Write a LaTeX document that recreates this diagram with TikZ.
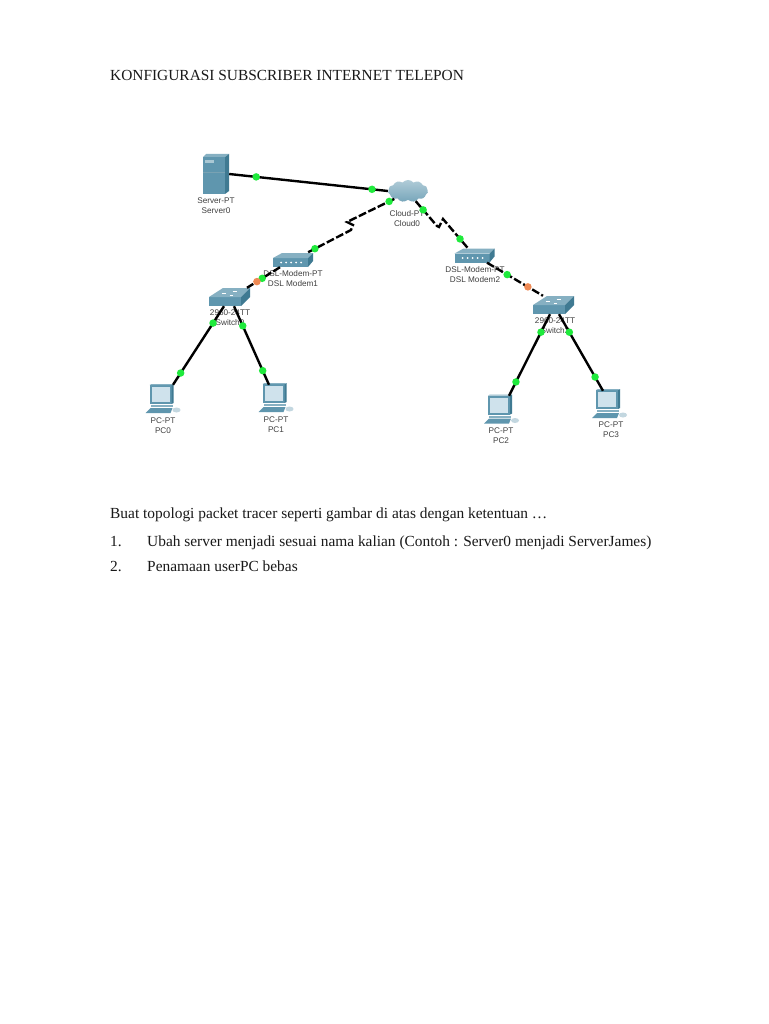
\documentclass[tikz,border=0pt]{standalone}
\usepackage{fontspec}
\setmainfont{Liberation Serif}
\setsansfont{Liberation Sans}
\usetikzlibrary{shapes.symbols}
\definecolor{devfront}{HTML}{5F96AE}
\definecolor{devtop}{HTML}{86B0C2}
\definecolor{devside}{HTML}{3F7A92}
\definecolor{devscreen}{HTML}{CFE2EC}
\definecolor{ledgreen}{HTML}{1FEA3C}
\definecolor{ledorange}{HTML}{EE8A55}
\tikzset{
  device/.style={inner sep=0pt},
  devlabel/.style={font=\sffamily\fontsize{8.2}{10}\selectfont, text=black!75, align=center, inner sep=0pt},
  bodytext/.style={font=\fontsize{15.4}{18}\selectfont, text=black!90, anchor=base west, inner sep=0pt},
  link/.style={black, line width=2.4pt},
  dashlink/.style={black, line width=2.4pt, dash pattern=on 8pt off 2.5pt},
  greenled/.style={circle, fill=ledgreen, inner sep=0pt, minimum size=7.5pt},
  orangeled/.style={circle, fill=ledorange, inner sep=0pt, minimum size=7.5pt},
  servericon/.pic={
    \fill[devfront] (-13,-17) rectangle (9,20);
    \fill[devtop] (-13,-17) -- (-10,-20) -- (13,-20) -- (9,-17) -- cycle;
    \fill[devside] (9,-17) -- (13,-20) -- (13,17) -- (9,20) -- cycle;
    \fill[devtop!70!white] (-11,-14) rectangle (-2,-11);
    \draw[devside!70!white] (-13,-2) -- (9,-2);
  },
  modemicon/.pic={
    \fill[devfront] (-20,-2) rectangle (15,7);
    \fill[devtop] (-20,-2) -- (-11,-7) -- (20,-7) -- (15,-2) -- cycle;
    \fill[devside] (15,-2) -- (20,-7) -- (20,1) -- (15,7) -- cycle;
    \foreach \px in {-12,-7,-2,3,8}
      \fill[white] (\px,2.5) circle (1);
  },
  switchicon/.pic={
    \fill[devfront] (-20.5,0) rectangle (11.5,9);
    \fill[devtop] (-20.5,0) -- (-6.5,-9) -- (20.5,-9) -- (11.5,0) -- cycle;
    \fill[devside] (11.5,0) -- (20.5,-9) -- (20.5,0) -- (11.5,9) -- cycle;
    \draw[white,line width=.5pt] (-8,-4) -- (-4,-4) (3,-6) -- (7,-6) (0,-2) -- (3,-2);
  },
  pcicon/.pic={
    \fill[devfront] (-14,-15) rectangle (8,4);
    \fill[devside] (8,-15) -- (10,-16) -- (10,3) -- (8,4) -- cycle;
    \fill[devtop] (-14,-15) -- (-12,-16) -- (10,-16) -- (8,-15) -- cycle;
    \fill[devscreen] (-12,-13) rectangle (6,2);
    \fill[devtop] (-13,5) -- (9,5) -- (9,7) -- (-13,7) -- cycle;
    \fill[devfront] (-18,13) -- (-13,8) -- (9,8) -- (7,13) -- cycle;
    \fill[devtop!50!white] (13,10) ellipse (4 and 2.5);
  },
}
\begin{document}
\begin{tikzpicture}[x=1pt,y=-1pt]
  \useasboundingbox[fill=white] (0,0) rectangle (768,1024);

  \node[bodytext] (title) at (110,81) {KONFIGURASI SUBSCRIBER INTERNET TELEPON};
  \node[bodytext] (intro) at (110,518) {Buat topologi packet tracer seperti gambar di atas dengan ketentuan …};
  \node[bodytext] (numone) at (110,546) {1.};
  \node[bodytext] (itemone) at (147,546) {Ubah server menjadi sesuai nama kalian (Contoh : Server0 menjadi ServerJames)};
  \node[bodytext] (numtwo) at (110,571) {2.};
  \node[bodytext] (itemtwo) at (147,571) {Penamaan userPC bebas};

  \node[device,minimum width=26pt,minimum height=40pt] (server0) at (216,174) {};
  \pic at (216,174) {servericon};
  \node[cloud,cloud puffs=11,cloud puff arc=100,aspect=1.9,top color=devtop!65!white,bottom color=devfront!85!white,inner sep=0pt,minimum width=40pt,minimum height=22pt] (cloud0) at (408,191) {};
  \node[device,minimum width=40pt,minimum height=14pt] (modem1) at (293,260) {};
  \pic at (293,260) {modemicon};
  \node[device,minimum width=40pt,minimum height=14pt] (modem2) at (474.5,255.5) {};
  \pic at (474.5,255.5) {modemicon};
  \node[device,minimum width=41pt,minimum height=18pt] (switch0) at (229.5,297) {};
  \pic at (229.5,297) {switchicon};
  \node[device,minimum width=41pt,minimum height=18pt] (switch2) at (553.5,305) {};
  \pic at (553.5,305) {switchicon};
  \node[device,minimum width=36pt,minimum height=30pt] (pc0) at (163.5,400) {};
  \pic at (163.5,400) {pcicon};
  \node[device,minimum width=36pt,minimum height=28pt] (pc1) at (276.5,399) {};
  \pic at (276.5,399) {pcicon};
  \node[device,minimum width=36pt,minimum height=29pt] (pc2) at (502,410.5) {};
  \pic at (502,410.5) {pcicon};
  \node[device,minimum width=36pt,minimum height=28pt] (pc3) at (610,405) {};
  \pic at (610,405) {pcicon};

  \node[devlabel] (server0label) at (216,206) {Server-PT\\Server0};
  \node[devlabel] (cloud0label) at (407,219) {Cloud-PT\\Cloud0};
  \node[devlabel] (modem1label) at (293,279) {DSL-Modem-PT\\DSL Modem1};
  \node[devlabel] (modem2label) at (475,275) {DSL-Modem-PT\\DSL Modem2};
  \node[devlabel] (switch0label) at (230,318) {2960-24TT\\Switch0};
  \node[devlabel] (switch2label) at (555,326) {2960-24TT\\Switch2};
  \node[devlabel] (pc0label) at (163,426) {PC-PT\\PC0};
  \node[devlabel] (pc1label) at (276,425) {PC-PT\\PC1};
  \node[devlabel] (pc2label) at (501,436) {PC-PT\\PC2};
  \node[devlabel] (pc3label) at (611,430) {PC-PT\\PC3};

  \coordinate (zigA) at (347,222);
  \coordinate (zigB) at (353,225);
  \coordinate (zigC) at (351,230);
  \coordinate (zigD) at (437,226);
  \coordinate (zigE) at (439,227);
  \coordinate (zigF) at (443,219);

  \draw[link] (server0.east) -- node[greenled,pos=.17] (led0) {} node[greenled,pos=.9] (led1) {} (cloud0.west);
  \draw[dashlink] (cloud0.210) -- node[greenled,pos=.11] (led2) {} (zigA) -- (zigB) -- (zigC) -- node[greenled,pos=.82] (led3) {} ([xshift=14pt]modem1.north);
  \draw[dashlink] (cloud0.307) -- node[greenled,pos=.35] (led4) {} (zigD) -- (zigE) -- (zigF) -- node[greenled,pos=.68] (led5) {} ([xshift=-6.5pt]modem2.north);
  \draw[dashlink] ([xshift=-13pt]modem1.south) -- node[greenled,pos=.54] (led6) {} node[orangeled,pos=.7] (led7) {} ([xshift=17.5pt]switch0.north);
  \draw[dashlink] ([xshift=12.5pt]modem2.south) -- node[greenled,pos=.36] (led8) {} node[orangeled,pos=.73] (led9) {} ([xshift=-10.5pt]switch2.north);
  \draw[link] ([xshift=-5.5pt]switch0.south) -- node[greenled,pos=.215] (led10) {} node[greenled,pos=.85] (led11) {} ([xshift=9.5pt]pc0.north);
  \draw[link] ([xshift=4.5pt]switch0.south) -- node[greenled,pos=.25] (led12) {} node[greenled,pos=.82] (led13) {} ([xshift=-7.5pt]pc1.north);
  \draw[link] ([xshift=-3.5pt]switch2.south) -- node[greenled,pos=.22] (led14) {} node[greenled,pos=.83] (led15) {} ([xshift=7pt]pc2.north);
  \draw[link] ([xshift=5.5pt]switch2.south) -- node[greenled,pos=.235] (led16) {} node[greenled,pos=.82] (led17) {} ([xshift=-7pt]pc3.north);
\end{tikzpicture}
\end{document}
